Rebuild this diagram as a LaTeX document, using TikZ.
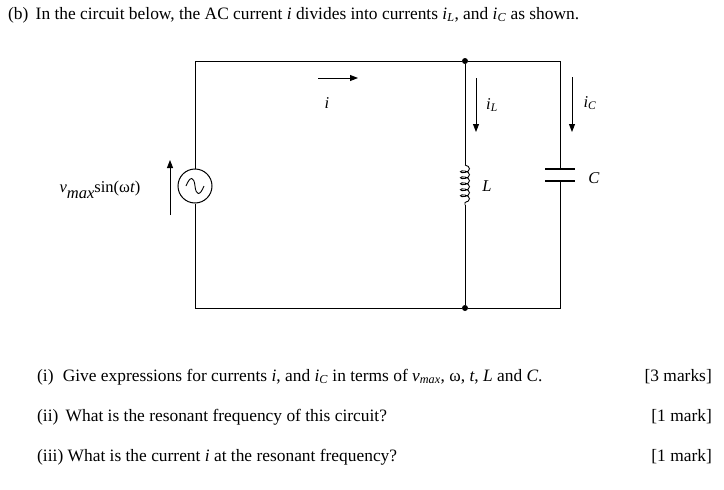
\documentclass[tikz,border=0pt]{standalone}
\usepackage{fontspec}
\setmainfont{Liberation Serif}
\usetikzlibrary{decorations.pathmorphing,arrows.meta}
\newcommand{\sub}[1]{\textsubscript{\textit{#1}}}
\begin{document}
\begin{tikzpicture}[x=1pt,y=-1pt,
  wire/.style={line width=1pt},
  cur/.style={line width=0.9pt,-{Triangle[length=8pt,width=6pt]}},
  txt/.style={font=\fontsize{16.5}{19}\selectfont,inner sep=0pt},
  big/.style={font=\fontsize{17.4}{20}\selectfont,inner sep=0pt},
  dot/.style={circle,fill,inner sep=0pt,minimum size=6pt}]
\useasboundingbox (0,0) rectangle (724,490);
\node[big,anchor=west] (title) at (8,15) {(b)\, In the circuit below, the AC current \textit{i} divides into currents \textit{i}\sub{L}, and \textit{i}\sub{C} as shown.};
\coordinate (tl) at (195,61); \coordinate (bl) at (195,308);
\node[dot] (nt) at (465,61) {}; \node[dot] (nb) at (465,308) {};
\coordinate (tr) at (560,61); \coordinate (br) at (560,308);
\node[circle,draw,line width=1pt,minimum size=34pt,inner sep=0pt] (src) at (195,186) {};
\draw[line width=0.9pt] ([xshift=-9pt]src.center) .. controls (-5+195,176) and (-1+195,176) .. (195,186) .. controls (1+195,196) and (5+195,196) .. ([xshift=9pt]src.center);
\draw[wire] (src.north) -- (tl) -- (nt) -- (tr) -- (560,169);
\draw[wire] (src.south) -- (bl) -- (nb) -- (br) -- (560,181);
\draw[line width=1.1pt] (545,169) -- (575,169) (545,181) -- (575,181);
\draw[wire] (nt) -- (465,165);
\draw[line width=0.9pt,decorate,decoration={coil,aspect=0.5,segment length=6pt,amplitude=4.5pt}] (465,165) -- (465,205);
\draw[wire] (465,205) -- (nb);
\draw[cur] (170,215) -- (170,160);
\draw[cur] (318,78) -- (358,78);
\draw[cur] (476,78) -- (476,132);
\draw[cur] (572,77) -- (572,132);
\node[txt] (li) at (327,103) {\textit{i}};
\node[txt] (lil) at (492,105) {\textit{i}\sub{L}};
\node[txt] (lic) at (590,103) {\textit{i}\sub{C}};
\node[txt] (lL) at (487,186) {\textit{L}};
\node[txt] (lC) at (594,178) {\textit{C}};
\node[txt] (lv) at (100,190) {\textit{v}\raisebox{-6pt}{\textit{max}}sin(ω\textit{t})};
\node[big,anchor=west] (q1) at (37,377) {(i)\; Give expressions for currents \textit{i}, and \textit{i}\sub{C} in terms of \textit{v}\sub{max}, ω, \textit{t}, \textit{L} and \textit{C}.};
\node[big,anchor=west] (q2) at (37,417) {(ii)\, What is the resonant frequency of this circuit?};
\node[big,anchor=west] (q3) at (37,457) {(iii) What is the current \textit{i} at the resonant frequency?};
\node[big,anchor=east] (m1) at (712,377) {[3 marks]};
\node[big,anchor=east] (m2) at (712,417) {[1 mark]};
\node[big,anchor=east] (m3) at (712,457) {[1 mark]};
\end{tikzpicture}
\end{document}
